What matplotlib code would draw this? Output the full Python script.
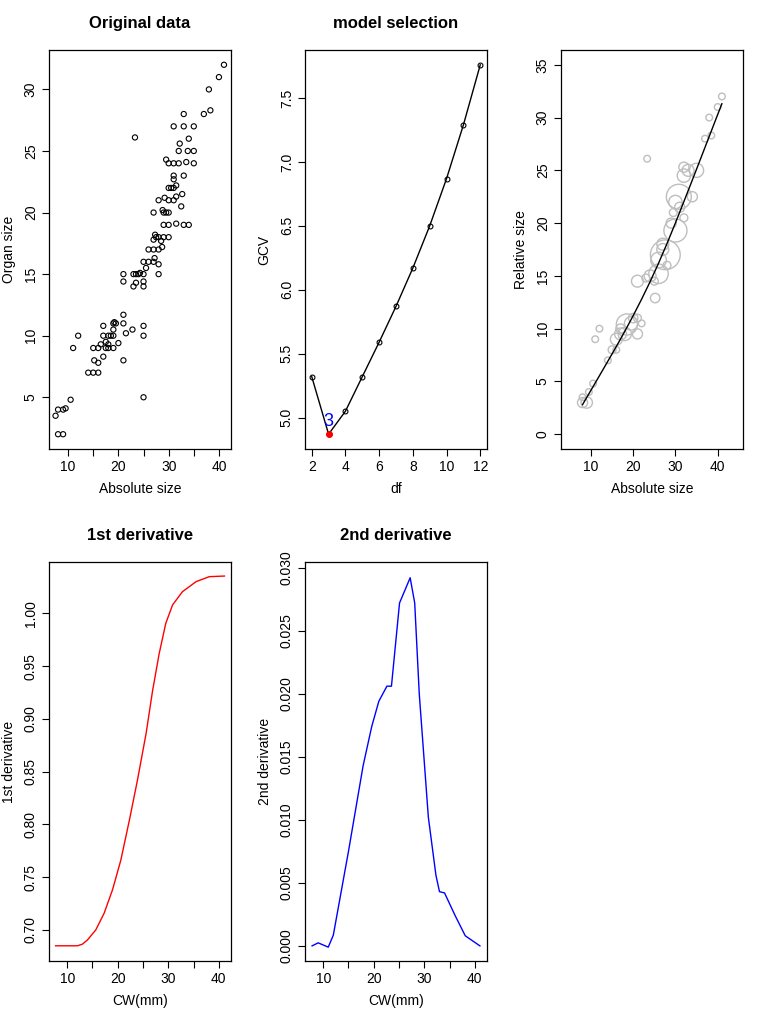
import matplotlib
matplotlib.use('Agg')
import matplotlib.pyplot as plt

plt.rcParams['font.family'] = ['Liberation Sans', 'DejaVu Sans']

# Original data: absolute size vs organ size
abs_size = [8, 9, 7.5, 8, 9, 9.5, 10.5, 11, 12,
            14, 15, 16, 15, 16, 15.2, 16, 16.5, 17, 17, 17, 17.5, 17.5, 18, 18, 18, 18.5,
            19, 19, 19, 19.2, 19, 19.5, 20, 21, 21, 21, 21, 21, 21.5, 22.8, 23, 23, 23.3,
            23.5, 23.5, 24, 24.3, 25, 25, 25, 25, 25, 25, 25, 25.5, 26, 26, 27, 27, 27,
            27.2, 27, 27.3, 27.5, 28, 28, 28, 28, 28, 28.5, 28.7, 29, 29, 29, 28.8, 29.2,
            29.5, 29.5, 30, 30, 30, 30, 30, 30, 30.5, 31, 31, 31, 31, 31, 31, 31.5, 31.5,
            31.5, 32, 32, 32.2, 32.5, 32.7, 33, 33, 33, 33, 33.5, 34, 33.8, 34, 35, 35, 35,
            37, 38, 38.3, 40, 41]
organ_size = [2, 2, 3.5, 4, 4, 4.1, 4.8, 9, 10,
              7, 7, 7, 9, 9, 8, 7.8, 9.3, 10.8, 8.3, 10, 9.5, 9, 10, 9.3, 9, 10,
              10, 11, 9, 11.1, 10.5, 11, 9.4, 15, 14.4, 11.7, 11, 8, 10.2, 10.5, 15, 14, 26.1,
              15, 14.3, 15, 15.1, 15, 14.4, 14, 16, 10, 10.8, 5, 15.5, 16, 17, 17, 20, 16,
              16.3, 17.8, 18.2, 18, 18, 17, 15, 15.8, 21, 17.7, 17.2, 18, 19, 20, 20.2, 21.2,
              20, 24.3, 24, 22, 20, 19, 18, 21, 22, 22, 24, 27, 23, 22.7, 21, 22.2, 21.3,
              19.1, 25, 24, 25.6, 20.5, 21.5, 28, 27, 23, 19, 24.1, 26, 25, 19, 27, 25, 24,
              28, 30, 28.3, 31, 32]

# model selection
df = [2, 3, 4, 5, 6, 7, 8, 9, 10, 11, 12]
gcv = [5.32, 4.87, 5.05, 5.32, 5.59, 5.87, 6.17, 6.50, 6.87, 7.29, 7.76]
best_df = 3
best_gcv = 4.87

# aggregated points (weights) and fitted curve
bub_x = [8, 8, 9, 9.5, 10.5, 11, 12, 14, 15, 16, 16, 17, 17, 18, 18.5, 19.5, 20, 21,
         21, 22, 21, 23, 24, 25.2, 25, 26, 26, 27, 27.6, 28, 27, 30, 29, 29.5, 30, 30.8,
         31, 32, 32, 32, 33, 34, 35, 23.3, 37, 38, 38.5, 40, 41]
bub_y = [3.0, 3.5, 3.0, 4.0, 4.8, 9, 10, 7, 8, 8, 9, 9.5, 10, 9.5, 10.4, 10.5, 11, 11,
         9.5, 10.5, 14.5, 14.8, 15, 12.9, 14.5, 15.2, 16.5, 18, 17.0, 16, 17.5, 19.3, 20,
         21, 22, 22.5, 21.5, 20.5, 24.5, 25.3, 25, 22.5, 25, 26.1, 28, 30, 28.3, 31, 32]
bub_w = [2.3, 1, 2.9, 1, 1, 1, 1, 1, 1.4, 1, 3.2, 3.2, 2, 4, 10, 4, 2, 1.4,
         2.3, 1, 3.2, 1.4, 3.2, 2, 1.4, 8.5, 5.5, 3.2, 20, 1.4, 3.2, 12, 2.3, 1.4, 4, 14,
         2.3, 1.4, 4, 2.3, 3.2, 2.3, 4.5, 1, 1, 1, 1, 1, 1]
fit_x = [8, 10, 12, 14, 16, 18, 20, 22, 24, 26, 28, 30, 32, 34, 36, 38, 40, 41]
fit_y = [2.8, 4.17, 5.54, 6.92, 8.31, 9.74, 11.24, 12.8, 14.45, 16.2, 18.06, 20.02,
         22.04, 24.08, 26.14, 28.21, 30.28, 31.31]

# derivatives
d1_x = [7.7, 12.0, 13.0, 14.0, 15.65, 17.3, 18.96, 20.6, 22.3, 23.9, 25.6, 26.9, 28.2,
        29.5, 30.85, 32.8, 35.5, 38.1, 41.1]
d1_y = [0.685, 0.685, 0.6865, 0.6905, 0.700, 0.7158, 0.738, 0.766, 0.804, 0.842, 0.886,
        0.927, 0.962, 0.9905, 1.008, 1.0205, 1.030, 1.0347, 1.0353]
d2_x = [7.8, 9, 11, 12, 15, 17.9, 19.6, 21, 22.6, 23.5, 25.1, 27.2, 28.1, 29, 30.8,
        32.3, 33, 34, 36.1, 38.1, 41]
d2_y = [0.0, 0.00024, -0.0001, 0.00085, 0.0075, 0.0143, 0.0174, 0.0194, 0.0206, 0.0206,
        0.0272, 0.0292, 0.0272, 0.020, 0.0102, 0.0056, 0.0043, 0.0042, 0.0024, 0.0008, 0.0]

W, H = 768, 1024
fig = plt.figure(figsize=(7.68, 10.24), dpi=100)


def make_ax(left, top, right, bottom):
    ax = fig.add_axes([left / W, 1 - bottom / H, (right - left) / W, (bottom - top) / H])
    for s in ax.spines.values():
        s.set_linewidth(0.9)
    ax.tick_params(direction='out', length=5, width=0.8, labelsize=10, pad=3)
    ax.tick_params(axis='y', labelrotation=90)
    return ax


def style(ax, title, xlabel, ylabel):
    if title:
        ax.set_title(title, fontsize=12, fontweight='bold', pad=16)
    ax.set_xlabel(xlabel, fontsize=10, labelpad=6)
    ax.set_ylabel(ylabel, fontsize=10, labelpad=6)
    for lab in ax.get_yticklabels():
        lab.set_va('center')


x5 = [10, 15, 20, 25, 30, 35, 40]
x5_lab = ['10', '', '20', '', '30', '', '40']

# Panel 1
ax1 = make_ax(49, 50, 231, 449)
ax1.scatter(abs_size, organ_size, s=14, facecolors='none', edgecolors='black', linewidths=0.8)
ax1.set_xlim(6.2, 42.4)
ax1.set_ylim(0.8, 33.2)
ax1.set_xticks(x5)
ax1.set_xticklabels(x5_lab)
ax1.set_yticks([5, 10, 15, 20, 25, 30])
style(ax1, 'Original data', 'Absolute size', 'Organ size')

# Panel 2
ax2 = make_ax(305, 50, 487, 449)
ax2.plot(df, gcv, color='black', lw=1, marker='o', ms=3.5, mfc='none', mew=0.8)
ax2.plot([best_df], [best_gcv], 'o', color='red', ms=4)
ax2.text(best_df, best_gcv + 0.03, str(best_df), color='blue', fontsize=13,
         ha='center', va='bottom')
ax2.set_xlim(1.6, 12.4)
ax2.set_ylim(4.754, 7.876)
ax2.set_xticks([2, 4, 6, 8, 10, 12])
ax2.set_yticks([5.0, 5.5, 6.0, 6.5, 7.0, 7.5])
ax2.set_yticklabels(['5.0', '5.5', '6.0', '6.5', '7.0', '7.5'])
style(ax2, 'model selection', 'df', 'GCV')

# Panel 3
ax3 = make_ax(561, 50, 743, 449)
ax3.scatter(bub_x, bub_y, s=[23 * w for w in bub_w], facecolors='none',
            edgecolors='#bebebe', linewidths=1)
ax3.plot(fit_x, fit_y, color='black', lw=1)
ax3.set_xlim(2.9, 46)
ax3.set_ylim(-1.4, 36.4)
ax3.set_xticks([10, 20, 30, 40])
ax3.set_yticks([0, 5, 10, 15, 20, 25, 30, 35])
style(ax3, None, 'Absolute size', 'Relative size')

# Panel 4
ax4 = make_ax(49, 562, 231, 961)
ax4.plot(d1_x, d1_y, color='red', lw=1)
ax4.set_xlim(6.4, 42.4)
ax4.set_ylim(0.6706, 1.0486)
ax4.set_xticks(x5)
ax4.set_xticklabels(x5_lab)
ax4.set_yticks([0.70, 0.75, 0.80, 0.85, 0.90, 0.95, 1.00])
ax4.set_yticklabels(['0.70', '0.75', '0.80', '0.85', '0.90', '0.95', '1.00'])
style(ax4, '1st derivative', 'CW(mm)', '1st derivative')

# Panel 5
ax5 = make_ax(305, 562, 487, 961)
ax5.plot(d2_x, d2_y, color='blue', lw=1)
ax5.set_xlim(6.4, 42.4)
ax5.set_ylim(-0.0012, 0.03045)
ax5.set_xticks(x5)
ax5.set_xticklabels(x5_lab)
ax5.set_yticks([0, 0.005, 0.010, 0.015, 0.020, 0.025, 0.030])
ax5.set_yticklabels(['0.000', '0.005', '0.010', '0.015', '0.020', '0.025', '0.030'])
style(ax5, '2nd derivative', 'CW(mm)', '2nd derivative')

fig.savefig('out.png', dpi=100)
